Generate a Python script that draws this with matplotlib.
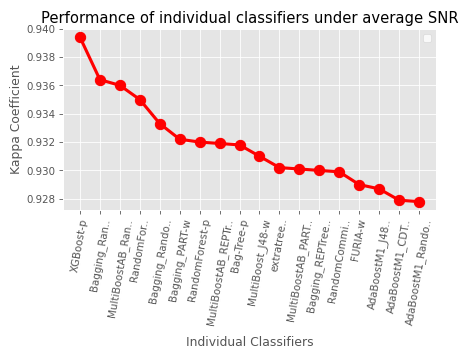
import matplotlib
matplotlib.use("Agg")
import matplotlib.pyplot as plt

plt.style.use("ggplot")

classifiers = ["XGBoost-p", "Bagging_Ran..", "MultiBoostAB_Ran..", "RandomFor..",
               "Bagging_Rando..", "Bagging_PART-w", "RandomForest-p", "MultiBoostAB_REPTr..",
               "Bag-Tree-p", "MultiBoost_J48-w", "extratree..", "MultiBoostAB_PART..",
               "Bagging_REPTree..", "RandomCommi..", "FURIA-w", "AdaBoostM1_J48..",
               "AdaBoostM1_CDT..", "AdaBoostM1_Rando.."]
kappa = [0.9394, 0.9364, 0.9360, 0.9350, 0.9333, 0.9322, 0.9320, 0.9319, 0.9318,
         0.9310, 0.9302, 0.9301, 0.9300, 0.9299, 0.9290, 0.9287, 0.9279, 0.9278]
yticks = [0.928, 0.930, 0.932, 0.934, 0.936, 0.938, 0.940]

dpi = 474 / 6.4
fig, ax = plt.subplots(figsize=(6.4, 355.4 / dpi), dpi=dpi)
ax.plot(classifiers, kappa, color="red", linewidth=3, marker="o", markersize=10)
ax.set_title("Performance of individual classifiers under average SNR")
ax.set_xlabel("Individual Classifiers", labelpad=10)
ax.set_ylabel("Kappa Coefficient", labelpad=4)
ax.set_yticks(yticks)
ax.set_yticklabels([f"{v:.3f}" for v in yticks])
plt.setp(ax.get_xticklabels(), rotation=80)
ax.legend(handles=[], loc="upper right", facecolor="white")
fig.subplots_adjust(left=63 / 474, right=436 / 474, top=1 - 29 / 355, bottom=1 - 210 / 355)
fig.savefig("out.png", dpi=dpi)
